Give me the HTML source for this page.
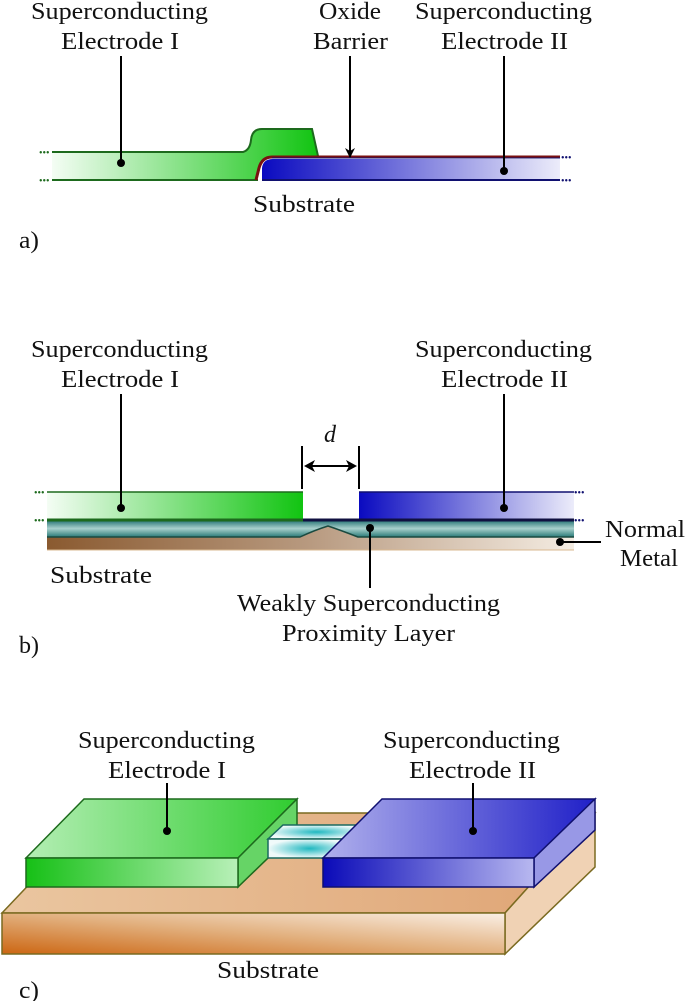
<!DOCTYPE html>
<html><head><meta charset="utf-8"><style>html,body{margin:0;padding:0;background:#fff}svg{display:block}text{font-family:"Liberation Serif",serif;font-size:24px;fill:#111}</style></head>
<body>
<svg width="685" height="1001" viewBox="0 0 685 1001" xmlns="http://www.w3.org/2000/svg">
<defs>
<linearGradient id="gL" x1="0" x2="1"><stop offset="0" stop-color="#f4fdf4"/><stop offset="1" stop-color="#11c411"/></linearGradient>
<linearGradient id="bR" x1="0" x2="1"><stop offset="0" stop-color="#0a0ac0"/><stop offset="1" stop-color="#ececfa"/></linearGradient>
<linearGradient id="teal" x1="0" y1="0" x2="0" y2="1"><stop offset="0" stop-color="#1f6f70"/><stop offset="0.5" stop-color="#a8d0cc"/><stop offset="1" stop-color="#2a7a78"/></linearGradient>
<linearGradient id="brn" x1="0" x2="1"><stop offset="0" stop-color="#8a5a30"/><stop offset="0.5" stop-color="#b89a80"/><stop offset="1" stop-color="#f4ece2"/></linearGradient>
<linearGradient id="subF" x1="0" y1="1" x2="1" y2="0"><stop offset="0" stop-color="#cc6612"/><stop offset="0.5" stop-color="#e2b07e"/><stop offset="1" stop-color="#faf0e6"/></linearGradient>
<linearGradient id="subT" x1="0" x2="1"><stop offset="0" stop-color="#eac6a0"/><stop offset="1" stop-color="#dfa474"/></linearGradient>
<linearGradient id="gT" x1="0" y1="0" x2="1" y2="0"><stop offset="0" stop-color="#b4eeb4"/><stop offset="1" stop-color="#30cc30"/></linearGradient>
<linearGradient id="gF" x1="0" x2="1"><stop offset="0" stop-color="#16c016"/><stop offset="1" stop-color="#b8f0b8"/></linearGradient>
<linearGradient id="bT" x1="0" x2="1"><stop offset="0" stop-color="#b0b0ec"/><stop offset="1" stop-color="#2020c8"/></linearGradient>
<linearGradient id="bF" x1="0" x2="1"><stop offset="0" stop-color="#0a0ab8"/><stop offset="1" stop-color="#b8b8f0"/></linearGradient>
<radialGradient id="wl"><stop offset="0" stop-color="#20b8c0"/><stop offset="1" stop-color="#f0fafa"/></radialGradient>
<marker id="ah" markerWidth="10" markerHeight="10" refX="9" refY="5" orient="auto" markerUnits="userSpaceOnUse"><path d="M0,0 L10,5 L0,10 L3,5z" fill="#000"/></marker>
</defs>

<!-- a) -->
<text x="31" y="19" textLength="177" lengthAdjust="spacingAndGlyphs">Superconducting</text>
<text x="61" y="49" textLength="118" lengthAdjust="spacingAndGlyphs">Electrode I</text>
<text x="319" y="19" textLength="62" lengthAdjust="spacingAndGlyphs">Oxide</text>
<text x="313" y="49" textLength="75" lengthAdjust="spacingAndGlyphs">Barrier</text>
<text x="415" y="19" textLength="177" lengthAdjust="spacingAndGlyphs">Superconducting</text>
<text x="441" y="49" textLength="127" lengthAdjust="spacingAndGlyphs">Electrode II</text>

<path d="M52,152 L243,152 Q250,150 251,140 Q252,129 262,129 L312,129 L318,156 L270,157 Q262,158 259,168 L256,180 L52,180Z" fill="url(#gL)"/>
<path d="M52,152 L243,152 Q250,150 251,140 Q252,129 262,129 L312,129 L318,156" fill="none" stroke="#1d6a1d" stroke-width="2"/>
<line x1="52" y1="180" x2="258" y2="180" stroke="#1d6a1d" stroke-width="2"/>
<path d="M256,180 L259,168 Q262,157 272,157 L560,157" fill="none" stroke="#7a1010" stroke-width="3"/>
<path d="M262,180 L262,168 Q263,159 273,159 L560,159 L560,180Z" fill="url(#bR)"/>
<line x1="262" y1="180" x2="560" y2="180" stroke="#101070" stroke-width="2"/>
<line x1="272" y1="158" x2="560" y2="158" stroke="#101070" stroke-width="1"/>
<text x="39" y="156" style="font-size:10px;fill:#1d6a1d">•••</text>
<text x="39" y="184" style="font-size:10px;fill:#1d6a1d">•••</text>
<text x="561" y="161" style="font-size:10px;fill:#101070">•••</text>
<text x="561" y="184" style="font-size:10px;fill:#101070">•••</text>
<line x1="121" y1="56" x2="121" y2="163" stroke="#000" stroke-width="2"/><circle cx="121" cy="163" r="4"/>
<line x1="504" y1="56" x2="504" y2="171" stroke="#000" stroke-width="2"/><circle cx="504" cy="171" r="4"/>
<line x1="350" y1="56" x2="350" y2="157" stroke="#000" stroke-width="2" marker-end="url(#ah)"/>
<text x="253" y="212" textLength="102" lengthAdjust="spacingAndGlyphs">Substrate</text>
<text x="19" y="248" textLength="20" lengthAdjust="spacingAndGlyphs">a)</text>

<!-- b) -->
<text x="31" y="357" textLength="177" lengthAdjust="spacingAndGlyphs">Superconducting</text>
<text x="61" y="387" textLength="118" lengthAdjust="spacingAndGlyphs">Electrode I</text>
<text x="415" y="357" textLength="177" lengthAdjust="spacingAndGlyphs">Superconducting</text>
<text x="441" y="387" textLength="127" lengthAdjust="spacingAndGlyphs">Electrode II</text>
<text x="330" y="442" text-anchor="middle" style="font-style:italic">d</text>
<line x1="302" y1="446" x2="302" y2="489" stroke="#000" stroke-width="2"/>
<line x1="359" y1="446" x2="359" y2="489" stroke="#000" stroke-width="2"/>
<line x1="312" y1="466" x2="349" y2="466" stroke="#000" stroke-width="2"/>
<path d="M304,466 L315,460 L312,466 L315,472Z"/><path d="M357,466 L346,460 L349,466 L346,472Z"/>

<path d="M47,536 L300,536 Q315,530 328,526 Q340,530 358,536 L574,536 L574,550 L47,550Z" fill="url(#brn)"/>
<path d="M47,520 L574,520 L574,537 L358,537 Q340,530 328,526 Q315,530 300,537 L47,537Z" fill="url(#teal)"/>
<path d="M47,537 L300,537 Q315,530 328,526 Q340,530 358,537 L574,537" fill="none" stroke="#1a4a40" stroke-width="1.5"/>
<line x1="47" y1="550" x2="574" y2="550" stroke="#d9b890" stroke-width="1"/>
<rect x="47" y="492" width="256" height="28" fill="url(#gL)"/>
<line x1="47" y1="492" x2="303" y2="492" stroke="#1d6a1d" stroke-width="1.5"/>
<line x1="47" y1="520" x2="303" y2="520" stroke="#1d6a1d" stroke-width="3"/>
<rect x="359" y="492" width="215" height="28" fill="url(#bR)"/>
<line x1="359" y1="492" x2="574" y2="492" stroke="#101070" stroke-width="1.5"/>
<line x1="303" y1="520" x2="574" y2="520" stroke="#101040" stroke-width="3"/>
<text x="34" y="496" style="font-size:10px;fill:#1d6a1d">•••</text>
<text x="34" y="524" style="font-size:10px;fill:#1d6a1d">•••</text>
<text x="574" y="496" style="font-size:10px;fill:#101070">•••</text>
<text x="574" y="524" style="font-size:10px;fill:#101070">•••</text>
<line x1="121" y1="394" x2="121" y2="508" stroke="#000" stroke-width="2"/><circle cx="121" cy="508" r="4"/>
<line x1="504" y1="394" x2="504" y2="508" stroke="#000" stroke-width="2"/><circle cx="504" cy="508" r="4"/>
<line x1="370" y1="528" x2="370" y2="588" stroke="#000" stroke-width="2"/><circle cx="370" cy="528" r="4"/>
<line x1="560" y1="542" x2="601" y2="542" stroke="#000" stroke-width="2"/><circle cx="560" cy="542" r="4"/>
<text x="605" y="537" textLength="80" lengthAdjust="spacingAndGlyphs">Normal</text>
<text x="620" y="566" textLength="58" lengthAdjust="spacingAndGlyphs">Metal</text>
<text x="50" y="583" textLength="102" lengthAdjust="spacingAndGlyphs">Substrate</text>
<text x="237" y="611" textLength="263" lengthAdjust="spacingAndGlyphs">Weakly Superconducting</text>
<text x="282" y="641" textLength="173" lengthAdjust="spacingAndGlyphs">Proximity Layer</text>
<text x="19" y="653" textLength="20" lengthAdjust="spacingAndGlyphs">b)</text>

<!-- c) -->
<text x="78" y="748" textLength="177" lengthAdjust="spacingAndGlyphs">Superconducting</text>
<text x="108" y="778" textLength="118" lengthAdjust="spacingAndGlyphs">Electrode I</text>
<text x="383" y="748" textLength="177" lengthAdjust="spacingAndGlyphs">Superconducting</text>
<text x="409" y="778" textLength="127" lengthAdjust="spacingAndGlyphs">Electrode II</text>

<polygon points="2,913 505,913 595,813 97,813" fill="url(#subT)" stroke="#7a6a20" stroke-width="1.5"/>
<polygon points="505,913 595,813 595,867 505,954" fill="#f0d2b4" stroke="#7a6a20" stroke-width="1.5"/>
<rect x="2" y="913" width="503" height="41" fill="url(#subF)" stroke="#7a6a20" stroke-width="1.5"/>
<!-- green -->
<polygon points="26,858 238,858 297,799 84,799" fill="url(#gT)" stroke="#1d6a1d" stroke-width="1.5"/>
<polygon points="238,858 297,799 297,830 238,887" fill="#66d466" stroke="#1d6a1d" stroke-width="1.5"/>
<rect x="26" y="858" width="212" height="29" fill="url(#gF)" stroke="#1d6a1d" stroke-width="1.5"/>
<!-- weak link -->
<polygon points="268,839 351,839 365,825 283,825" fill="url(#wl)" stroke="#1a6a60" stroke-width="1.5"/>
<rect x="268" y="839" width="83" height="19" fill="url(#wl)" stroke="#1a6a60" stroke-width="1.5"/>
<!-- blue -->
<polygon points="323,858 534,858 595,799 382,799" fill="url(#bT)" stroke="#101070" stroke-width="1.5"/>
<polygon points="534,858 595,799 595,830 534,887" fill="#9898e6" stroke="#101070" stroke-width="1.5"/>
<rect x="323" y="858" width="211" height="29" fill="url(#bF)" stroke="#101070" stroke-width="1.5"/>
<line x1="167" y1="783" x2="167" y2="831" stroke="#000" stroke-width="2"/><circle cx="167" cy="831" r="4"/>
<line x1="473" y1="783" x2="473" y2="831" stroke="#000" stroke-width="2"/><circle cx="473" cy="831" r="4"/>
<text x="217" y="978" textLength="102" lengthAdjust="spacingAndGlyphs">Substrate</text>
<text x="19" y="998" textLength="20" lengthAdjust="spacingAndGlyphs">c)</text>
</svg>
</body></html>
